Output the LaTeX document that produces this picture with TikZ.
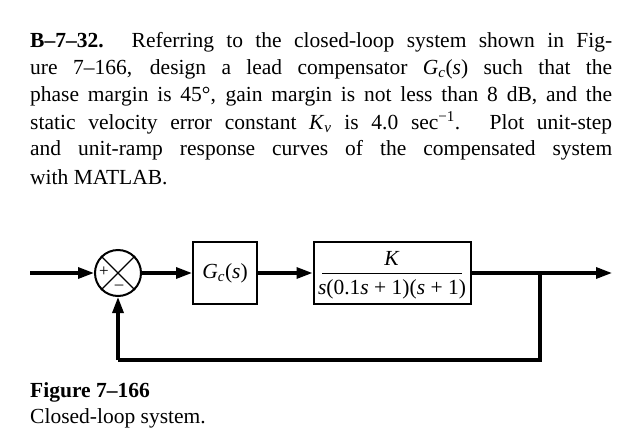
\documentclass[tikz,border=0pt]{standalone}
\usepackage{fontspec}
\setmainfont{Liberation Serif}
\usetikzlibrary{arrows.meta}
\newcommand{\ital}[1]{\textit{#1}}
\begin{document}
\begin{tikzpicture}[x=1pt,y=-1pt,
  blk/.style={draw,line width=2pt,minimum height=62pt,inner sep=0pt},
  sig/.style={line width=3.2pt,-{Triangle[length=16pt,width=11pt]}},
  ln/.style={line width=3.2pt},
  big/.style={font=\fontsize{21.5}{26}\selectfont},
  txt/.style={anchor=west,inner sep=0pt,big}]
\useasboundingbox (0,0) rectangle (639,444);
\node[txt] (l1) at (30,42) {\makebox[582pt][s]{\textbf{B–7–32.} Referring to the closed-loop system shown in Fig-}};
\node[txt] (l2) at (30,69) {\makebox[582pt][s]{ure 7–166, design a lead compensator \ital{G}\textsubscript{\ital{c}}(\ital{s}) such that the}};
\node[txt] (l3) at (30,96) {\makebox[582pt][s]{phase margin is 45°, gain margin is not less than 8 dB, and the}};
\node[txt] (l4) at (30,123) {\makebox[582pt][s]{static velocity error constant \ital{K}\textsubscript{\ital{v}} is 4.0 sec\textsuperscript{−1}. Plot unit-step}};
\node[txt] (l5) at (30,150) {\makebox[582pt][s]{and unit-ramp response curves of the compensated system}};
\node[txt] (l6) at (30,177) {with MATLAB.};
\node[circle,draw,line width=2pt,minimum size=46pt,inner sep=0pt] (sum) at (118,273) {};
\draw[line width=1.3pt] (sum.north west)--(sum.south east) (sum.north east)--(sum.south west);
\node[font=\fontsize{17}{17}\selectfont] (pl) at (104,272) {+};
\node[font=\fontsize{17}{17}\selectfont] (mi) at (119,287) {–};
\node[blk,minimum width=64pt,big] (gc) at (225,273) {\ital{G}\textsubscript{\ital{c}}(\ital{s})};
\node[blk,minimum width=157pt] (g) at (392,273) {};
\node[big] (num) at (392,258) {\ital{K}};
\node[big] (den) at (392,289) {\ital{s}(0.1\ital{s} + 1)(\ital{s} + 1)};
\draw[line width=1pt] ([xshift=-70pt]g.center) -- ([xshift=70pt]g.center);
\coordinate (in) at (30,273);
\coordinate (out) at (612,273);
\coordinate (br) at (540,273);
\coordinate (fb) at (540,360);
\coordinate (fb2) at (118,360);
\draw[sig] (in)--(sum.west);
\draw[sig] (sum.east)--(gc.west);
\draw[sig] (gc.east)--(g.west);
\draw[sig] (g.east)--(out);
\draw[ln] (br)--(fb)--(fb2);
\draw[sig] (fb2)--(sum.south);
\node[txt,font=\bfseries\fontsize{21.5}{26}\selectfont] (f1) at (30,392) {Figure 7–166};
\node[txt] (f2) at (30,418) {Closed-loop system.};
\end{tikzpicture}
\end{document}
